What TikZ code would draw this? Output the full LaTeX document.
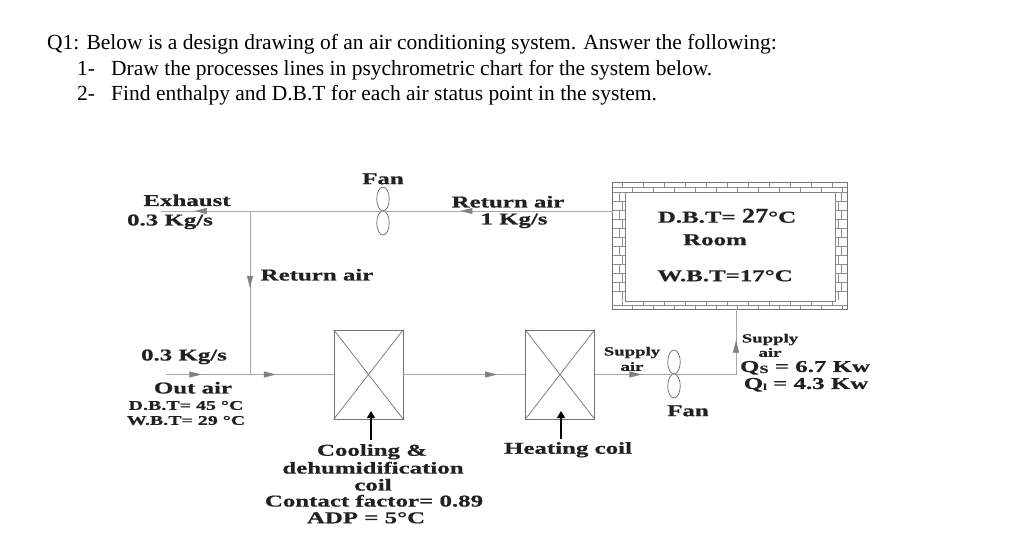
\documentclass[tikz,border=0pt]{standalone}
\usepackage{fontspec}
\setmainfont{Liberation Serif}
\newfontfamily\labfont[FakeStretch=1.5,FakeBold=0.6]{Liberation Serif Bold}
\newfontfamily\labfontb[FakeStretch=1.25,FakeBold=0.6]{Liberation Serif Bold}
\usetikzlibrary{arrows.meta,decorations.markings,shapes.geometric}
\definecolor{pipe}{gray}{0.66}
\definecolor{ink}{gray}{0.13}
\tikzset{
  pipeline/.style={draw=pipe,line width=1pt},
  coilbox/.style={draw=black!55,line width=0.8pt,minimum width=69pt,minimum height=89pt,inner sep=0pt},
  coilx/.style={draw=black!55,line width=0.7pt},
  fanlobe/.style={draw=black!60,line width=0.7pt,ellipse,minimum width=12.5pt,minimum height=24pt,inner sep=0pt},
  roombox/.style={draw=black!50,line width=1pt,minimum width=210pt,minimum height=109pt,inner sep=0pt},
  brick/.style={draw=black!45,line width=0.4pt},
  wall/.style={draw=black!55,line width=0.8pt},
  callout/.style={draw=black,line width=1.1pt,-{Triangle[length=7pt,width=8pt]}},
  tip/.style={postaction={decorate,decoration={markings,mark=at position #1 with {\arrow[draw=black!50,fill=black!18,line width=0.4pt]{Triangle[length=12pt,width=6pt]}}}}},
  qline/.style={anchor=base west,inner sep=0pt,text=black,font=\fontsize{21.5}{24}\selectfont},
  lab/.style={inner sep=0pt,text=ink,yshift=-0.8pt,font=\labfont\fontsize{16.6}{18}\selectfont},
  labs/.style={inner sep=0pt,text=ink,yshift=-0.5pt,font=\labfont\fontsize{13.3}{16}\selectfont},
  labt/.style={inner sep=0pt,text=ink,yshift=-0.5pt,font=\labfont\fontsize{12.5}{14}\selectfont},
}
\begin{document}
\begin{tikzpicture}[x=1pt,y=-1pt]
\useasboundingbox (0,0) rectangle (1019,552);
\fill[white] (0,0) rectangle (1019,552);
% question
\node[qline] (q1) at (47,49) {Q1: Below is a design drawing of an air conditioning system. Answer the following:};
\node[qline] (q2a) at (77,75) {1-};
\node[qline] (q2b) at (111,75) {Draw the processes lines in psychrometric chart for the system below.};
\node[qline] (q3a) at (77,100) {2-};
\node[qline] (q3b) at (111,100) {Find enthalpy and D.B.T for each air status point in the system.};
% equipment
\node[coilbox] (cc) at (368.5,374.5) {};
\node[coilbox] (hc) at (560,374.5) {};
\draw[coilx] (cc.north west) -- (cc.south east) (cc.north east) -- (cc.south west);
\draw[coilx] (hc.north west) -- (hc.south east) (hc.north east) -- (hc.south west);
\node[roombox] (room) at (730,246.5) {};
\node[inner sep=0pt,minimum width=234pt,minimum height=126pt] (wallout) at (730,246) {};
\draw[wall] (wallout.north west) rectangle (wallout.south east);
% bricks
\foreach \y in {187.5,305}{\draw[brick] (613,\y) -- (847,\y);}
\foreach \y in {201,210,219,228,237,246,255,264,273,282,291}{
  \draw[brick] (613,\y) -- (625,\y);
  \draw[brick] (835,\y) -- (847,\y);}
\draw[brick] (613,192) -- (625,192) (835,192) -- (847,192);
\foreach \x in {622,643,664,685,706,727,748,769,790,811,832}{
  \draw[brick] (\x,183) -- (\x,187.5);
  \draw[brick] (\x,301) -- (\x,305);
  \draw[brick] (\x+10,187.5) -- (\x+10,192);
  \draw[brick] (\x+10,305) -- (\x+10,309);}
\foreach \y [count=\i] in {192,201,210,219,228,237,246,255,264,273,282,291}{
  \pgfmathsetmacro{\xl}{isodd(\i)?619:622}
  \pgfmathsetmacro{\xr}{isodd(\i)?841:838}
  \draw[brick] (\xl,\y) -- (\xl,\y+9);
  \draw[brick] (\xr,\y) -- (\xr,\y+9);}
% fans
\node[fanlobe] (f1a) at (383,199) {};
\node[fanlobe] (f1b) at (383,223) {};
\node[fanlobe] (f2a) at (674,362) {};
\node[fanlobe] (f2b) at (674,386) {};
% free ends and junctions
\coordinate (exh) at (161,211);
\coordinate (j1) at (250,211);
\coordinate (j2) at (250,374.5);
\coordinate (oa) at (166,374.5);
\coordinate (sup) at (736,374.5);
\coordinate (ccfoot) at (371,440);
\coordinate (cctop) at (371,411);
\coordinate (hcfoot) at (561,439);
\coordinate (hctop) at (561,411);
% connectors
\draw[pipeline,tip=0.42] (wallout.west |- j1) -- (j1);
\draw[pipeline,tip=0.62] (j1) -- (exh);
\draw[pipeline,tip=0.47] (j1) -- (j2);
\draw[pipeline,tip=0.42] (oa) -- (j2);
\draw[pipeline,tip=0.31] (j2) -- (cc.west);
\draw[pipeline,tip=0.77] (cc.east) -- (hc.west);
\draw[pipeline,tip=0.33] (hc.east) -- (sup);
\draw[pipeline,tip=0.52] (sup) -- (sup |- wallout.south);
\draw[callout] (ccfoot) -- (cctop);
\draw[callout] (hcfoot) -- (hctop);
% labels
\node[lab] (t1) at (187,199.5) {Exhaust};
\node[lab] (t2) at (170,221) {0.3 Kg/s};
\node[lab] (t3) at (383,178) {Fan};
\node[lab] (t4) at (508,201) {Return air};
\node[lab] (t5) at (514,220) {1 Kg/s};
\node[lab] (t6) at (727,215) {D.B.T= {\labfontb\fontsize{21}{20}\selectfont 27}°C};
\node[lab] (t7) at (715,239) {Room};
\node[lab] (t8) at (725,275) {W.B.T=17°C};
\node[lab] (t9) at (317,274) {Return air};
\node[lab] (t10) at (184,356) {0.3 Kg/s};
\node[lab] (t11) at (193,387) {Out air};
\node[labs] (t12) at (186,405) {D.B.T= 45 °C};
\node[labs] (t13) at (186,420) {W.B.T= 29 °C};
\node[lab] (t14) at (372,451) {Cooling \&};
\node[lab] (t15) at (373,467) {dehumidification};
\node[lab] (t16) at (373,484) {coil};
\node[lab] (t17) at (374,500) {Contact factor= 0.89};
\node[lab] (t18) at (366,517) {ADP = 5°C};
\node[lab] (t19) at (568,449) {Heating coil};
\node[labt] (t20) at (632,352) {Supply};
\node[labt] (t21) at (632,366) {air};
\node[lab] (t22) at (688,410) {Fan};
\node[labt] (t23) at (770,339) {Supply};
\node[labt] (t24) at (770,352) {air};
\node[lab] (t25) at (805,367) {Q\raisebox{-1pt}{\fontsize{11}{12}\selectfont S} = 6.7 Kw};
\node[lab] (t26) at (806,384) {Q\raisebox{-1pt}{\fontsize{9}{12}\selectfont l} = 4.3 Kw};
\end{tikzpicture}
\end{document}
